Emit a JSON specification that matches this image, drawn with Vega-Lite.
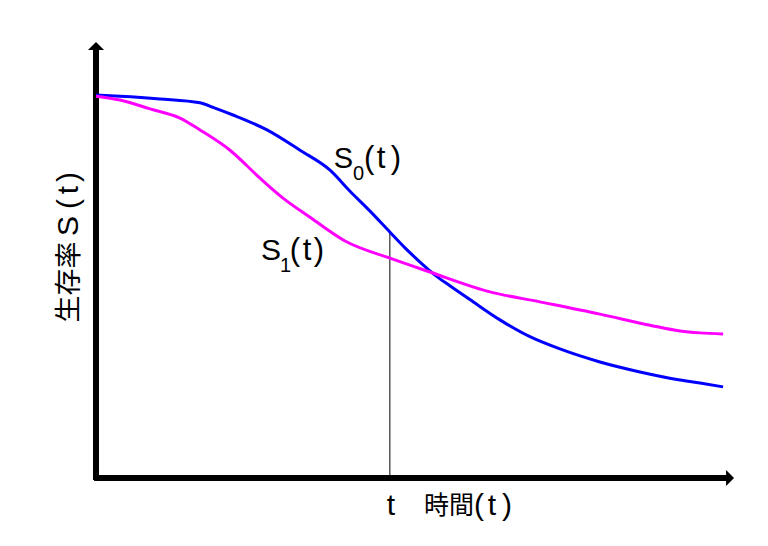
{
  "$schema": "https://vega.github.io/schema/vega-lite/v6.json",
  "width": 644,
  "height": 448,
  "autosize": {"type": "none"},
  "padding": {"left": 96, "top": 30, "right": 28, "bottom": 68},
  "background": "white",
  "config": {"view": {"stroke": null}, "text": {"font": "Liberation Sans, Arial, Noto Sans CJK JP"}},
  "datasets": {
    "curves": [
      {"t": 0, "S": 1.0, "series": "S0"},
      {"t": 0.384, "S": 0.997, "series": "S0"},
      {"t": 1.024, "S": 0.990, "series": "S0"},
      {"t": 1.663, "S": 0.980, "series": "S0"},
      {"t": 1.903, "S": 0.966, "series": "S0"},
      {"t": 2.191, "S": 0.948, "series": "S0"},
      {"t": 2.735, "S": 0.909, "series": "S0"},
      {"t": 3.263, "S": 0.856, "series": "S0"},
      {"t": 3.743, "S": 0.804, "series": "S0"},
      {"t": 4.063, "S": 0.749, "series": "S0"},
      {"t": 4.383, "S": 0.697, "series": "S0"},
      {"t": 4.702, "S": 0.642, "series": "S0"},
      {"t": 4.942, "S": 0.601, "series": "S0"},
      {"t": 5.182, "S": 0.564, "series": "S0"},
      {"t": 5.422, "S": 0.530, "series": "S0"},
      {"t": 5.66, "S": 0.502, "series": "S0"},
      {"t": 5.98, "S": 0.466, "series": "S0"},
      {"t": 6.46, "S": 0.413, "series": "S0"},
      {"t": 6.94, "S": 0.369, "series": "S0"},
      {"t": 7.42, "S": 0.337, "series": "S0"},
      {"t": 8.06, "S": 0.303, "series": "S0"},
      {"t": 8.70, "S": 0.277, "series": "S0"},
      {"t": 9.34, "S": 0.256, "series": "S0"},
      {"t": 9.66, "S": 0.248, "series": "S0"},
      {"t": 10.03, "S": 0.238, "series": "S0"},
      {"t": 0, "S": 0.997, "series": "S1"},
      {"t": 0.384, "S": 0.987, "series": "S1"},
      {"t": 0.864, "S": 0.964, "series": "S1"},
      {"t": 1.344, "S": 0.940, "series": "S1"},
      {"t": 1.663, "S": 0.909, "series": "S1"},
      {"t": 2.143, "S": 0.856, "series": "S1"},
      {"t": 2.623, "S": 0.783, "series": "S1"},
      {"t": 2.991, "S": 0.731, "series": "S1"},
      {"t": 3.423, "S": 0.681, "series": "S1"},
      {"t": 3.983, "S": 0.619, "series": "S1"},
      {"t": 4.702, "S": 0.574, "series": "S1"},
      {"t": 5.34, "S": 0.538, "series": "S1"},
      {"t": 6.30, "S": 0.486, "series": "S1"},
      {"t": 7.10, "S": 0.460, "series": "S1"},
      {"t": 8.06, "S": 0.428, "series": "S1"},
      {"t": 8.86, "S": 0.399, "series": "S1"},
      {"t": 9.34, "S": 0.384, "series": "S1"},
      {"t": 9.66, "S": 0.379, "series": "S1"},
      {"t": 10.03, "S": 0.376, "series": "S1"}
    ],
    "labels": [
      {"t": 3.959, "S": 0.8094, "label": "S", "fs": 29, "ang": 0},
      {"t": 4.199, "S": 0.7781, "label": "0", "fs": 20, "ang": 0},
      {"t": 4.367, "S": 0.8094, "label": "(", "fs": 31, "ang": 0},
      {"t": 4.559, "S": 0.8094, "label": "t", "fs": 31, "ang": 0},
      {"t": 4.798, "S": 0.8094, "label": ")", "fs": 31, "ang": 0},
      {"t": 2.799, "S": 0.5692, "label": "S", "fs": 30, "ang": 0},
      {"t": 3.031, "S": 0.5379, "label": "1", "fs": 20, "ang": 0},
      {"t": 3.183, "S": 0.5692, "label": "(", "fs": 31, "ang": 0},
      {"t": 3.375, "S": 0.5692, "label": "t", "fs": 31, "ang": 0},
      {"t": 3.567, "S": 0.5692, "label": ")", "fs": 31, "ang": 0},
      {"t": 4.718, "S": -0.0966, "label": "t", "fs": 30, "ang": 0},
      {"t": 5.646, "S": -0.094, "label": "時間", "fs": 25, "ang": 0},
      {"t": 6.126, "S": -0.0966, "label": "(", "fs": 30, "ang": 0},
      {"t": 6.334, "S": -0.0966, "label": "t", "fs": 30, "ang": 0},
      {"t": 6.574, "S": -0.0966, "label": ")", "fs": 30, "ang": 0},
      {"t": -0.288, "S": 0.5117, "label": "生存率", "fs": 27, "ang": 270},
      {"t": -0.288, "S": 0.6580, "label": "S", "fs": 30, "ang": 270},
      {"t": -0.288, "S": 0.7154, "label": "(", "fs": 30, "ang": 270},
      {"t": -0.288, "S": 0.7520, "label": "t", "fs": 30, "ang": 270},
      {"t": -0.288, "S": 0.7859, "label": ")", "fs": 30, "ang": 270}
    ]
  },
  "layer": [
    {
      "data": {"values": [{"t0": -0.03, "t1": 10.09, "S": 0}]},
      "mark": {"type": "rule", "strokeWidth": 6, "color": "black"},
      "encoding": {
        "x": {"field": "t0", "type": "quantitative", "scale": {"domain": [0, 10.3], "nice": false, "zero": false}, "axis": null},
        "x2": {"field": "t1"},
        "y": {"field": "S", "type": "quantitative", "scale": {"domain": [0, 1.17], "nice": false, "zero": false}, "axis": null}
      }
    },
    {
      "data": {"values": [{"t": 0, "S0": -0.005, "S1": 1.12}]},
      "mark": {"type": "rule", "strokeWidth": 6, "color": "black"},
      "encoding": {
        "x": {"field": "t", "type": "quantitative"},
        "y": {"field": "S0", "type": "quantitative"},
        "y2": {"field": "S1"}
      }
    },
    {
      "data": {"values": [{"t": 0, "S": 1.1175}]},
      "mark": {"type": "point", "shape": "M-1,0L0,-1L1,0Z", "size": 256, "filled": true, "color": "black", "opacity": 1, "strokeWidth": 0},
      "encoding": {
        "x": {"field": "t", "type": "quantitative"},
        "y": {"field": "S", "type": "quantitative"}
      }
    },
    {
      "data": {"values": [{"t": 10.077, "S": 0}]},
      "mark": {"type": "point", "shape": "M0,-1L1,0L0,1Z", "size": 256, "filled": true, "color": "black", "opacity": 1, "strokeWidth": 0},
      "encoding": {
        "x": {"field": "t", "type": "quantitative"},
        "y": {"field": "S", "type": "quantitative"}
      }
    },
    {
      "data": {"values": [{"t": 4.70, "S0": 0, "S1": 0.642}]},
      "mark": {"type": "rule", "strokeWidth": 1, "color": "black"},
      "encoding": {
        "x": {"field": "t", "type": "quantitative"},
        "y": {"field": "S0", "type": "quantitative"},
        "y2": {"field": "S1"}
      }
    },
    {
      "data": {"name": "curves"},
      "mark": {"type": "line", "strokeWidth": 3, "interpolate": "monotone"},
      "encoding": {
        "x": {"field": "t", "type": "quantitative"},
        "y": {"field": "S", "type": "quantitative"},
        "color": {"field": "series", "type": "nominal", "scale": {"domain": ["S0", "S1"], "range": ["#0000FF", "#FF00FF"]}, "legend": null}
      }
    },
    {
      "data": {"name": "labels"},
      "mark": {"type": "text", "align": "center", "baseline": "alphabetic", "color": "black"},
      "encoding": {
        "x": {"field": "t", "type": "quantitative"},
        "y": {"field": "S", "type": "quantitative"},
        "text": {"field": "label"},
        "size": {"field": "fs", "type": "quantitative", "scale": null},
        "angle": {"field": "ang", "type": "quantitative", "scale": null}
      }
    }
  ]
}
